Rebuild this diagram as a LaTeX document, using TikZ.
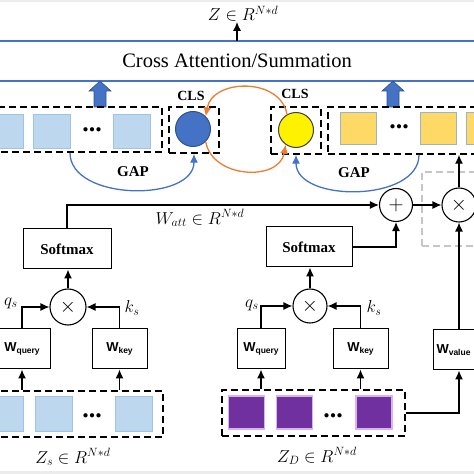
\documentclass[tikz,border=0pt]{standalone}
\usepackage{amsmath}
\usepackage{fontspec}
\setmainfont{Liberation Serif}
\setsansfont{Liberation Sans}
\usepackage{xcolor}
\usepackage{tikz}
\usetikzlibrary{arrows.meta}
\usetikzlibrary{shapes}

\definecolor{lineblue}{HTML}{4472C4}
\definecolor{darkblue}{HTML}{2F528F}
\definecolor{patchblue}{HTML}{BDD7EE}
\definecolor{patchedge}{HTML}{9DC3E6}
\definecolor{patchyellow}{HTML}{FFD966}
\definecolor{patchpurple}{HTML}{7030A0}
\definecolor{purpleedge}{HTML}{D9B3F0}
\definecolor{arcorange}{HTML}{ED7D31}

\newcommand{\wlabel}[1]{{\sffamily\bfseries\fontsize{13}{13}\selectfont W\raisebox{-2pt}{\fontsize{8.5}{9}\selectfont #1}}}

\begin{document}
\begin{tikzpicture}[x=1pt, y=1pt,
        every node/.style={inner sep=0pt},
        arr/.style={-{Latex[length=9pt,width=8pt]}, line width=1.3pt},
        dbox/.style={draw, dash pattern=on 7pt off 4pt, line width=1.5pt},
        graybox/.style={draw=gray!45, dash pattern=on 7pt off 4pt, line width=1.3pt},
        patch/.style={draw=patchedge, fill=patchblue, line width=1pt, minimum width=37, minimum height=34},
        ypatch/.style={patch, fill=patchyellow, draw=patchedge!80!gray, minimum width=36, minimum height=32},
        ppatch/.style={draw=purpleedge, fill=patchpurple, line width=1.5pt, minimum width=36, minimum height=33},
        opnode/.style={circle, draw, line width=1.1pt, minimum size=34, font=\fontsize{22}{22}\selectfont},
        wbox/.style={draw, line width=1pt, minimum height=40},
        softbox/.style={draw, line width=1pt, minimum height=40, font=\fontsize{15}{15}\selectfont\bfseries},
        boldlab/.style={font=\fontsize{14}{14}\selectfont\bfseries},
        mathlab/.style={font=\fontsize{18}{18}\selectfont},
        dotsnode/.style={font=\fontsize{26}{26}\selectfont\bfseries},
        orangearr/.style={-{Latex[length=9pt,width=8pt]}, arcorange, line width=1.3pt},
        gaparr/.style={-{Latex[length=9pt,width=8pt]}, lineblue, line width=1.3pt}]
    \useasboundingbox (0, 0) rectangle (474, 474);
    \clip (0, 0) rectangle (474, 474);
    \fill[gray!15] (0, 472) rectangle (474, 474);
    \fill[gray!15] (0, 0) rectangle (474, 3);

    % fusion band on top
    \node[minimum width=490, minimum height=40, font=\fontsize{20.5}{24}\selectfont] (ca) at (237, 413) {Cross Attention/Summation};
    \draw[lineblue, line width=1.5pt] (ca.north west) -- (ca.north east);
    \draw[lineblue, line width=1.5pt] (ca.south west) -- (ca.south east);
    \node[mathlab] (zout) at (243, 460) {$Z\in R^{N*d}$};
    \draw[arr] (ca.north) -- (ca.north |- zout.south);

    \foreach \x in {100, 393}
        \filldraw[fill=lineblue, draw=darkblue, line width=0.6pt]
            (\x-6, 367) -- (\x+6, 367) -- (\x+6, 383) -- (\x+11, 383)
            -- (\x, 393) -- (\x-11, 383) -- (\x-6, 383) -- cycle;

    % token rows of the two branches
    \node[dbox, minimum width=172, minimum height=45] (rowS) at (76, 344.5) {};
    \node[patch] (sa) at (4.5, 342.5) {};
    \node[patch] (sb) at (51.5, 342.5) {};
    \node[patch] (sc) at (131.5, 342.5) {};
    \node[dotsnode] (sdots) at (92, 344) {...};

    \node[dbox, minimum width=50, minimum height=46] (clsboxL) at (194, 344) {};
    \node[circle, draw=darkblue, fill=lineblue, line width=1pt, minimum size=35] (clsL) at (193, 345) {};
    \node[boldlab] (clsLlab) at (191, 378) {CLS};

    \node[dbox, minimum width=50, minimum height=47] (clsboxR) at (296, 343.5) {};
    \node[circle, draw=black!75, fill=yellow, line width=1pt, minimum size=35] (clsR) at (296, 344) {};
    \node[boldlab] (clsRlab) at (295, 380) {CLS};

    \node[dbox, minimum width=172, minimum height=47] (rowY) at (414, 343.5) {};
    \node[ypatch] (ya) at (358, 345) {};
    \node[ypatch] (yb) at (438, 345) {};
    \node[ypatch] (yc) at (484, 345) {};
    \node[dotsnode] (ydots) at (399, 347) {...};

    \draw[orangearr] (clsR.120) to[out=100, in=80, looseness=1.2] (clsL.45);
    \draw[orangearr] (clsL.-45) to[out=-80, in=-100, looseness=1.2] (clsR.-125);

    \draw[gaparr] ([xshift=-6pt]rowS.south) to[out=-90, in=-90] (clsboxL.south);
    \node[font=\fontsize{15}{15}\selectfont\bfseries] (gapL) at (133, 302) {GAP};
    \draw[gaparr] ([xshift=5pt]rowY.south) to[out=-90, in=-90] (clsboxR.south);
    \node[font=\fontsize{15}{15}\selectfont\bfseries] (gapR) at (354, 301) {GAP};

    % attention part
    \node[softbox, minimum width=88] (softL) at (67, 225) {Softmax};
    \node[softbox, minimum width=86] (softR) at (309, 227) {Softmax};
    \node[opnode, minimum size=33] (plus) at (396, 269) {$+$};
    \node[opnode] (timesV) at (459, 269) {$\times$};
    \node[graybox, minimum width=78, minimum height=74] (gate) at (461, 265) {};
    \node[mathlab] (watt) at (200, 256) {$W_{att}\in R^{N*d}$};

    \node[opnode, minimum size=36] (mulL) at (68, 167) {$\times$};
    \node[opnode] (mulR) at (310, 168) {$\times$};
    \node[mathlab] (qL) at (11, 171) {$q_s$};
    \node[mathlab] (kL) at (132, 166) {$k_s$};
    \node[mathlab] (qR) at (252, 169) {$q_s$};
    \node[mathlab] (kR) at (374, 166) {$k_s$};

    \node[wbox, minimum width=56] (wqL) at (22, 125) {\wlabel{query}};
    \node[wbox, minimum width=55] (wkL) at (119.5, 125) {\wlabel{key}};
    \node[wbox, minimum width=48] (wqR) at (261, 125) {\wlabel{query}};
    \node[wbox, minimum width=55] (wkR) at (360.5, 125) {\wlabel{key}};
    \node[wbox, minimum width=86, text width=80, align=left, anchor=west] (wv) at (433, 124) {\wlabel{value}};

    \node[dbox, minimum width=173, minimum height=46] (inS) at (76.5, 60) {};
    \node[patch, minimum height=35] (ia) at (5, 59.5) {};
    \node[patch, minimum height=35] (ib) at (53.5, 59.5) {};
    \node[patch, minimum height=35] (ic) at (133.5, 59.5) {};
    \node[dotsnode] (idots) at (92, 58) {...};
    \node[mathlab] (zs) at (73, 17) {$Z_s\in R^{N*d}$};

    \node[dbox, minimum width=183, minimum height=46] (inD) at (313.5, 61) {};
    \node[ppatch] (da) at (246.5, 61.5) {};
    \node[ppatch] (db) at (294.5, 61.5) {};
    \node[ppatch] (dc) at (374, 61.5) {};
    \node[dotsnode] (ddots) at (333, 58) {...};
    \node[mathlab] (zd) at (317, 18) {$Z_D\in R^{N*d}$};

    % connectors
    \draw[arr] (softL.north) |- (plus.west);
    \draw[arr] (softR.east) -| (plus.south);
    \draw[arr] (plus.east) -- (timesV.west);
    \draw[arr] (timesV.north) -- (timesV |- rowY.south);
    \draw[arr] (mulL.north) -- (mulL |- softL.south);
    \draw[arr] (mulR.north) -- (mulR |- softR.south);
    \draw[arr] (wqL.north) |- (mulL.west);
    \draw[arr] (wkL.north) |- (mulL.east);
    \draw[arr] (wqR.north) |- (mulR.west);
    \draw[arr] (wkR.north) |- (mulR.east);
    \draw[arr] (inS.north -| wqL) -- (wqL.south);
    \draw[arr] (inS.north -| wkL) -- (wkL.south);
    \draw[arr] (inD.north -| wqR) -- (wqR.south);
    \draw[arr] (inD.north -| wkR) -- (wkR.south);
    \draw[arr] (inD.east) -| (timesV |- wv.south);
    \draw[arr] (timesV |- wv.north) -- (timesV.south);
\end{tikzpicture}
\end{document}
